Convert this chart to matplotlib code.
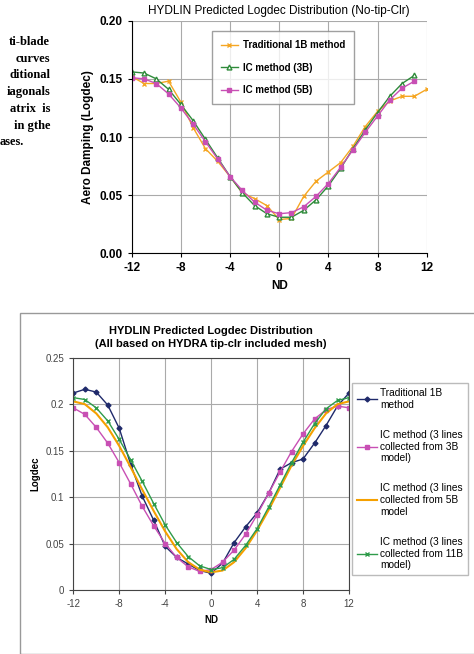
import matplotlib
matplotlib.use("Agg")
import matplotlib.pyplot as plt
from matplotlib.patches import Rectangle

nd_top = list(range(-12, 13))
trad_top = [0.152,0.146,0.146,0.148,0.130,0.108,0.090,0.079,0.066,0.052,0.047,0.041,0.029,0.030,0.049,0.062,0.070,0.078,0.092,0.109,0.122,0.131,0.135,0.135,0.141]
nd_ic = list(range(-12, 12))
ic3_top = [0.156,0.155,0.150,0.141,0.128,0.114,0.098,0.082,0.066,0.052,0.041,0.034,0.031,0.031,0.037,0.046,0.058,0.073,0.090,0.106,0.121,0.135,0.146,0.153]
ic5_top = [0.151,0.150,0.146,0.137,0.125,0.111,0.096,0.081,0.066,0.054,0.044,0.037,0.034,0.035,0.040,0.049,0.060,0.074,0.089,0.104,0.118,0.132,0.142,0.148]

nd_bot = list(range(-12, 13))
trad_bot = [0.212,0.216,0.213,0.199,0.174,0.135,0.101,0.075,0.047,0.035,0.028,0.021,0.018,0.029,0.051,0.068,0.083,0.104,0.130,0.137,0.141,0.158,0.177,0.198,0.212]
ic3_bot = [0.196,0.189,0.175,0.158,0.137,0.114,0.090,0.069,0.050,0.035,0.025,0.020,0.022,0.030,0.043,0.060,0.081,0.104,0.127,0.149,0.168,0.184,0.194,0.198,0.196]
ic5_bot = [0.203,0.200,0.190,0.175,0.155,0.132,0.108,0.085,0.063,0.044,0.030,0.022,0.019,0.021,0.030,0.045,0.064,0.086,0.110,0.134,0.155,0.174,0.190,0.200,0.203]
ic11_bot = [0.207,0.205,0.196,0.182,0.162,0.140,0.117,0.093,0.070,0.051,0.036,0.026,0.022,0.024,0.033,0.048,0.066,0.089,0.113,0.137,0.159,0.179,0.195,0.204,0.207]

side_text = ["ti-blade", "curves", "ditional", "iagonals", "atrix  is", "in gthe"]

W, H = 474, 654
plt.rcParams['font.family'] = ['Liberation Sans', 'DejaVu Sans']
plt.rcParams['axes.unicode_minus'] = False
fig = plt.figure(figsize=(W/100, H/100), dpi=100)

for i, t in enumerate(side_text):
    fig.text(50/W, 1-(42+16.7*i)/H, t, ha='right', va='center', family='Liberation Serif', weight='bold', fontsize=9)
fig.text(0, 1-(42+16.7*6)/H, "ases.", ha='left', va='center', family='Liberation Serif', weight='bold', fontsize=9)

# top chart
ax = fig.add_axes([131.7/W, 1-253.3/H, 295/W, 232.6/H])
ax.plot(nd_top, trad_top, color='#f5a623', marker='x', ms=3, lw=1, label='Traditional 1B method')
ax.plot(nd_ic, ic3_top, color='#2e8b3a', marker='^', ms=3.5, mfc='white', lw=1, label='IC method (3B)')
ax.plot(nd_ic, ic5_top, color='#c84fb4', marker='s', ms=3.5, lw=1, label='IC method (5B)')
ax.set_xlim(-12, 12); ax.set_ylim(0, 0.2)
ax.set_xticks(range(-12, 13, 4)); ax.set_yticks([0, 0.05, 0.10, 0.15, 0.20])
ax.set_yticklabels(['0.00', '0.05', '0.10', '0.15', '0.20'])
ax.grid(True, color='#aaaaaa', lw=0.8)
for s in ['top', 'right']:
    ax.spines[s].set_visible(False)
ax.tick_params(labelsize=8.5, length=3)
for lab in ax.get_xticklabels() + ax.get_yticklabels():
    lab.set_fontweight('bold')
ax.set_xlabel('ND', fontsize=8.5, weight='bold', labelpad=4)
ax.set_ylabel('Aero Damping (Logdec)', fontsize=8.5, weight='bold')
ax.set_title('HYDLIN Predicted Logdec Distribution (No-tip-Clr)', fontsize=8.5, pad=5)
ax.legend(loc='upper left', bbox_to_anchor=(0.255, 0.975), prop={'weight': 'bold', 'size': 7},
          frameon=True, fancybox=False, edgecolor='#888888', labelspacing=1.3, handlelength=1.8,
          handletextpad=0.5, borderpad=0.9)

# bottom frame
fig.patches.append(Rectangle((20/W, 0), 1, 1-313/H, transform=fig.transFigure, fill=False, edgecolor='#999999', lw=1))

ax2 = fig.add_axes([73.3/W, 1-590/H, 275.7/W, 232.3/H])
ax2.plot(nd_bot, trad_bot, color='#1f2a6b', marker='D', ms=2.5, lw=1, label='Traditional 1B\nmethod')
ax2.plot(nd_bot, ic3_bot, color='#c84fb4', marker='s', ms=3.5, lw=1, label='IC method (3 lines\ncollected from 3B\nmodel)')
ax2.plot(nd_bot, ic5_bot, color='#f5a000', lw=1.5, label='IC method (3 lines\ncollected from 5B\nmodel')
ax2.plot(nd_bot, ic11_bot, color='#2e9b4a', marker='x', ms=3.5, lw=1, label='IC method (3 lines\ncollected from 11B\nmodel)')
ax2.set_xlim(-12, 12); ax2.set_ylim(0, 0.25)
ax2.set_xticks(range(-12, 13, 4)); ax2.set_yticks([0, 0.05, 0.1, 0.15, 0.2, 0.25])
ax2.set_yticklabels(['0', '0.05', '0.1', '0.15', '0.2', '0.25'])
ax2.grid(True, color='#aaaaaa', lw=0.8)
for s in ax2.spines.values():
    s.set_color('#444444')
ax2.tick_params(labelsize=7, length=3, colors='#444444')
ax2.set_xlabel('ND', fontsize=7, weight='bold')
ax2.set_ylabel('Logdec', fontsize=7, weight='bold')
ax2.set_title('HYDLIN Predicted Logdec Distribution\n(All based on HYDRA tip-clr included mesh)', fontsize=8, weight='bold', pad=8, linespacing=1.3)
ax2.legend(loc='upper left', bbox_to_anchor=(1.01, 0.891), fontsize=7.3, frameon=True, fancybox=False,
           edgecolor='#aaaaaa', labelspacing=2.0, handlelength=2.0, handletextpad=0.3, borderpad=0.5,
           borderaxespad=0)

fig.savefig('out.png', dpi=100)
